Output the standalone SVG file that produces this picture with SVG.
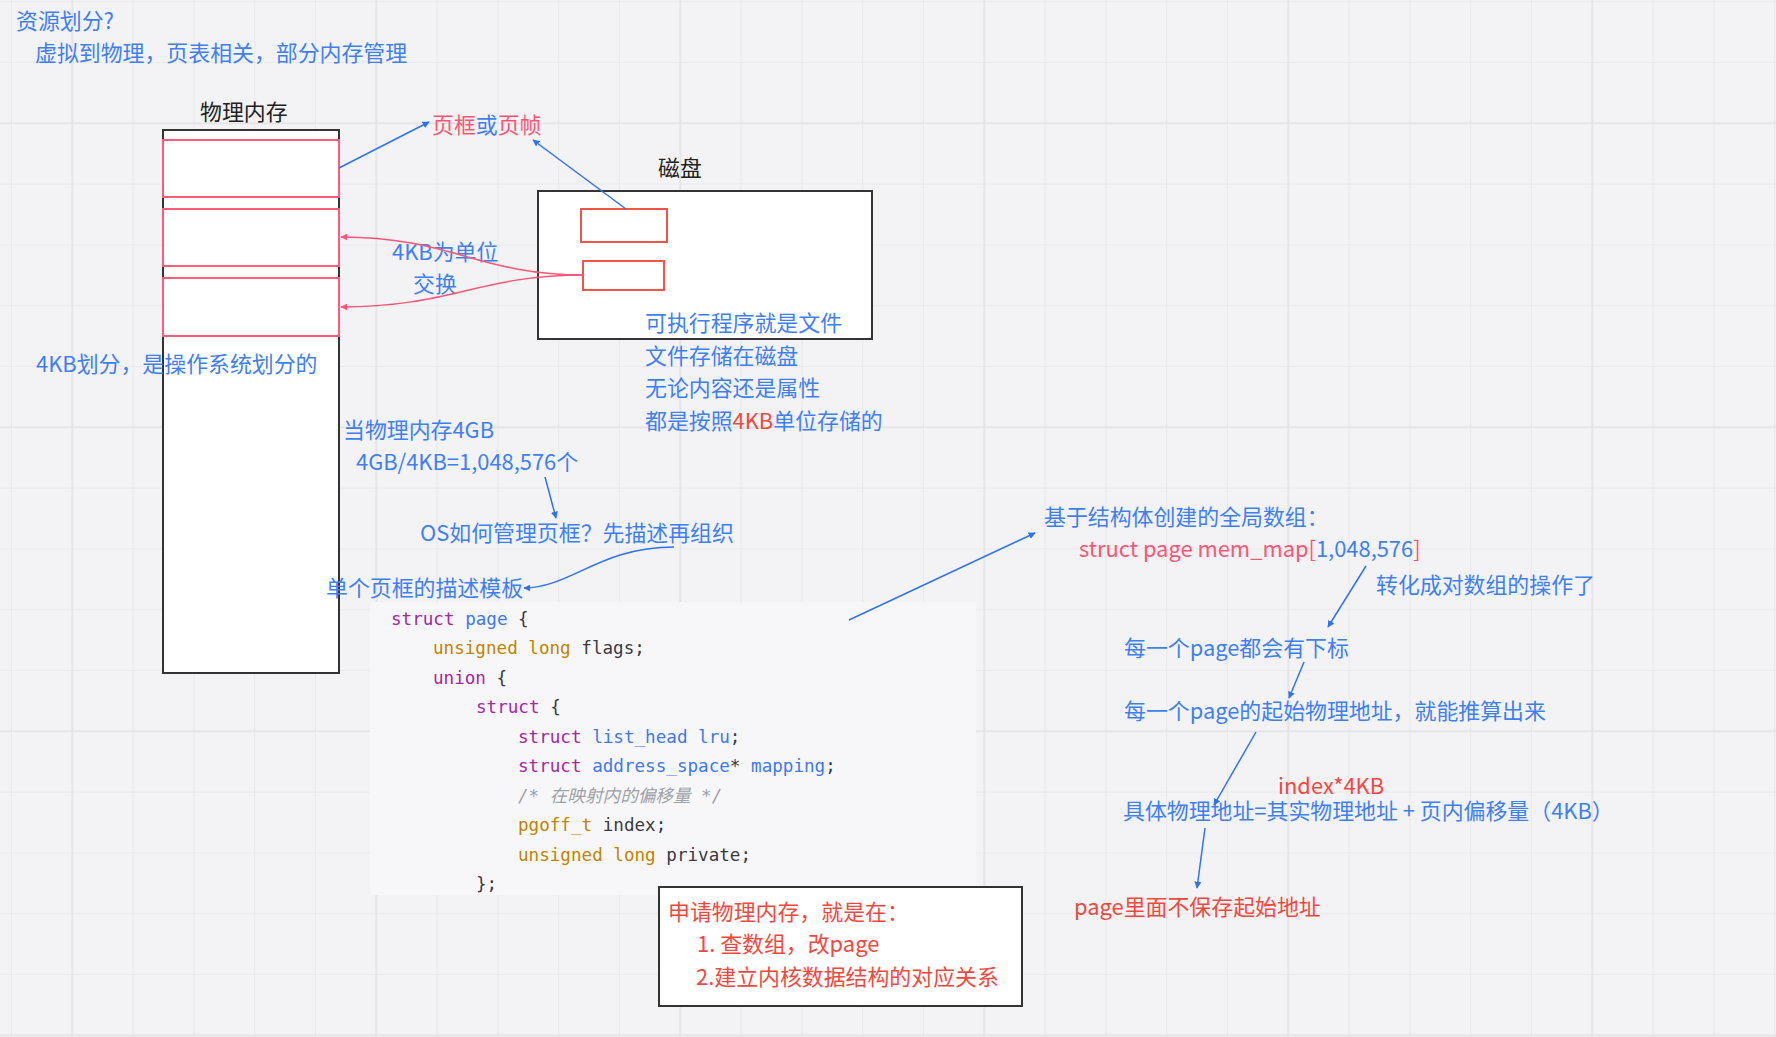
<svg xmlns="http://www.w3.org/2000/svg" width="1776" height="1037" viewBox="0 0 1776 1037">
<style>
.t{font-family:"Noto Sans CJK SC","Noto Sans",sans-serif;font-size:21.9px;}
.b{fill:#3f7ff5;}
.pk{fill:#ff5574;}
.rd{fill:#f4483f;}
.dk{fill:#222;}
.code{font-family:"DejaVu Sans Mono","Noto Sans CJK SC",monospace;font-size:17.6px;fill:#383a42;}
.kw{fill:#a626a4;}
.ty{fill:#c18401;}
.fn{fill:#4078f2;}
.cm{fill:#a0a1a7;font-style:italic;}
.ab{stroke:#2f72f0;stroke-width:1.5;fill:none;}
.ap{stroke:#ff5577;stroke-width:1.5;fill:none;}
</style>
<defs>
<pattern id="minor" x="11" y="1.2" width="60.8" height="60.8" patternUnits="userSpaceOnUse">
<path d="M0.5,0 V60.8 M0,0.5 H60.8" stroke="#eaeaed" stroke-width="1" fill="none"/>
</pattern>
<pattern id="major" x="71.55" y="122.55" width="304" height="304" patternUnits="userSpaceOnUse">
<path d="M0.75,0 V304 M0,0.75 H304" stroke="#e3e3e7" stroke-width="1.5" fill="none"/>
</pattern>
<marker id="mb" viewBox="0 0 10 10" refX="9" refY="5" markerWidth="7" markerHeight="7" markerUnits="userSpaceOnUse" orient="auto">
<path d="M0,0 L10,5 L0,10 z" fill="#2f72f0"/>
</marker>
<marker id="mp" viewBox="0 0 10 10" refX="9" refY="5" markerWidth="7" markerHeight="7" markerUnits="userSpaceOnUse" orient="auto">
<path d="M0,0 L10,5 L0,10 z" fill="#ff5577"/>
</marker>
</defs>
<rect x="0" y="0" width="1776" height="1037" fill="#f3f3f5"/>
<rect x="0" y="0" width="1776" height="1037" fill="url(#minor)"/>
<rect x="0" y="0" width="1776" height="1037" fill="url(#major)"/>

<g id="title">
<text class="t b" x="16" y="29">资源划分?</text>
<text class="t b" x="35" y="61">虚拟到物理，页表相关，部分内存管理</text>
</g>

<g id="memory">
<text class="t dk" x="200" y="120">物理内存</text>
<rect x="163" y="130" width="176" height="543" fill="#fff" stroke="#333" stroke-width="2"/>
<rect x="163" y="140" width="176" height="57" fill="#fff" stroke="#ff5c7a" stroke-width="2"/>
<rect x="163" y="209" width="176" height="57" fill="#fff" stroke="#ff5c7a" stroke-width="2"/>
<rect x="163" y="278" width="176" height="58" fill="#fff" stroke="#ff5c7a" stroke-width="2"/>
</g>

<g id="frame-label">
<text class="t" x="432" y="133"><tspan class="pk">页框</tspan><tspan class="b">或</tspan><tspan class="pk">页帧</tspan></text>
</g>

<g id="disk">
<text class="t dk" x="658" y="176">磁盘</text>
<rect x="538" y="191" width="334" height="148" fill="#fff" stroke="#333" stroke-width="2"/>
<rect x="581" y="209" width="86" height="33" fill="#fff" stroke="#f0554a" stroke-width="2"/>
<rect x="583" y="261" width="81" height="29" fill="#fff" stroke="#f0554a" stroke-width="2"/>
</g>

<g id="swap-label">
<text class="t b" x="392" y="259.5">4KB为单位</text>
<text class="t b" x="413" y="292">交换</text>
</g>

<g id="disk-notes">
<text class="t b" x="645" y="331">可执行程序就是文件</text>
<text class="t b" x="645" y="364">文件存储在磁盘</text>
<text class="t b" x="645" y="396">无论内容还是属性</text>
<text class="t b" x="645" y="428.5">都是按照<tspan class="rd">4KB</tspan>单位存储的</text>
</g>

<g id="split-note">
<text class="t b" x="36" y="372">4KB划分，是操作系统划分的</text>
</g>

<g id="count-note">
<text class="t b" x="343" y="438">当物理内存4GB</text>
<text class="t b" x="356" y="470">4GB/4KB=1,048,576个</text>
</g>

<g id="os-manage">
<text class="t b" x="420" y="541">OS如何管理页框？先描述再组织</text>
</g>

<g id="template-label">
<text class="t b" x="326" y="596">单个页框的描述模板</text>
</g>

<g id="code">
<rect x="370" y="602" width="606" height="293" fill="#f7f7f9"/>
<text class="code" x="391" y="624.5"><tspan class="kw">struct</tspan> <tspan class="fn">page</tspan> {</text>
<text class="code" x="433" y="654"><tspan class="ty">unsigned</tspan> <tspan class="ty">long</tspan> flags;</text>
<text class="code" x="433" y="683.5"><tspan class="kw">union</tspan> {</text>
<text class="code" x="476" y="713"><tspan class="kw">struct</tspan> {</text>
<text class="code" x="518" y="742.5"><tspan class="kw">struct</tspan> <tspan class="fn">list_head lru</tspan>;</text>
<text class="code" x="518" y="772"><tspan class="kw">struct</tspan> <tspan class="fn">address_space</tspan>* <tspan class="fn">mapping</tspan>;</text>
<text class="code cm" x="518" y="801.5">/* 在映射内的偏移量 */</text>
<text class="code" x="518" y="831"><tspan class="ty">pgoff_t</tspan> index;</text>
<text class="code" x="518" y="860.5"><tspan class="ty">unsigned</tspan> <tspan class="ty">long</tspan> private;</text>
<text class="code" x="476" y="890">};</text>
</g>

<g id="alloc-box">
<rect x="659" y="887" width="363" height="119" fill="#fff" stroke="#333" stroke-width="2"/>
<text class="t rd" x="668" y="919.5">申请物理内存，就是在：</text>
<text class="t rd" x="697" y="952">1. 查数组，改page</text>
<text class="t rd" x="696" y="984.5">2.建立内核数据结构的对应关系</text>
</g>

<g id="global-array">
<text class="t b" x="1044" y="524.5">基于结构体创建的全局数组：</text>
<text class="t" x="1079" y="557"><tspan class="pk">struct page mem_map[</tspan><tspan class="b">1,048,576</tspan><tspan class="pk">]</tspan></text>
</g>

<g id="array-op">
<text class="t b" x="1376" y="593">转化成对数组的操作了</text>
</g>

<g id="index-note">
<text class="t b" x="1124" y="656">每一个page都会有下标</text>
</g>

<g id="start-addr">
<text class="t b" x="1124" y="719">每一个page的起始物理地址，就能推算出来</text>
</g>

<g id="phys-addr">
<text class="t rd" x="1278" y="794">index*4KB</text>
<text class="t b" x="1123" y="819">具体物理地址=其实物理地址 + 页内偏移量（4KB）</text>
</g>

<g id="no-store">
<text class="t rd" x="1074" y="915">page里面不保存起始地址</text>
</g>

<g id="connectors">
<path class="ab" d="M339,168 L429,122" marker-end="url(#mb)"/>
<path class="ab" d="M626,209 L533,140" marker-end="url(#mb)"/>
<path class="ap" d="M583,275 C480,275 450,237 341,237" marker-end="url(#mp)"/>
<path class="ap" d="M583,275 C480,275 450,307 341,307" marker-end="url(#mp)"/>
<path class="ab" d="M545,477 L556,518" marker-end="url(#mb)"/>
<path class="ab" d="M674,547 C600,547 570,588 524,588" marker-end="url(#mb)"/>
<path class="ab" d="M849,620 L1035,533" marker-end="url(#mb)"/>
<path class="ab" d="M1366,566 L1328,627" marker-end="url(#mb)"/>
<path class="ab" d="M1304,662 L1289,698" marker-end="url(#mb)"/>
<path class="ab" d="M1256,732 L1214,805" marker-end="url(#mb)"/>
<path class="ab" d="M1205,828 L1197,888" marker-end="url(#mb)"/>
</g>
</svg>
